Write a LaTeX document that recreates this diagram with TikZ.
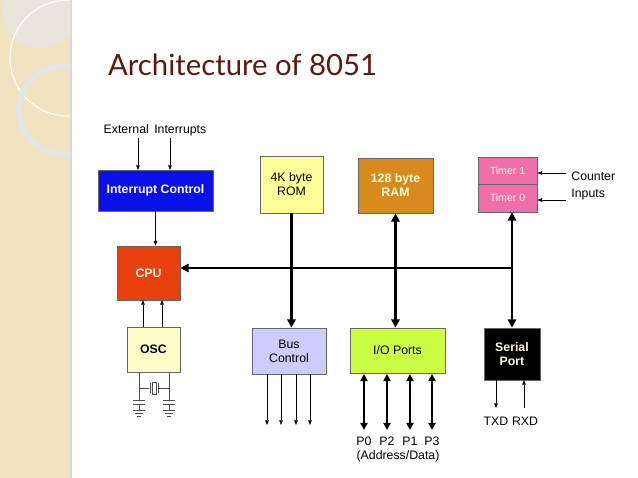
\documentclass[tikz,border=0pt]{standalone}
\usepackage{fontspec}
\setmainfont{Liberation Sans}
\newfontfamily\titlefont{Lato}
\usetikzlibrary{arrows.meta}
\definecolor{stripbg}{HTML}{F2E3C0}
\definecolor{titlered}{HTML}{5A1A10}
\definecolor{intblue}{HTML}{0A10E8}
\definecolor{cpured}{HTML}{E8400F}
\definecolor{oscyel}{HTML}{FFFFCC}
\definecolor{romyel}{HTML}{FFFF99}
\definecolor{buslav}{HTML}{CCCCFF}
\definecolor{ramorg}{HTML}{D98A1C}
\definecolor{tmrpink}{HTML}{F06EAA}
\definecolor{iogreen}{HTML}{CCFF44}
\newcommand\blkfont{\fontsize{10.5}{12}\selectfont}
\tikzset{
  blk/.style={draw=black!60, line width=.6pt, font=\blkfont, align=center, inner sep=0pt},
  bus/.style={line width=2pt, -{Triangle[length=7pt,width=7pt]}},
  dbus/.style={line width=2pt, {Triangle[length=7pt,width=7pt]}-{Triangle[length=7pt,width=7pt]}},
  sig/.style={line width=.6pt, -{Triangle[length=4pt,width=3pt]}},
  lbl/.style={font=\blkfont, inner sep=1pt}
}
\begin{document}
\begin{tikzpicture}[x=0.03cm, y=-0.03cm]
  \useasboundingbox (0,0) rectangle (638,478);
  % left strip
  \fill[stripbg] (0,0) rectangle (70,478);
  \fill[black!15] (70,0) rectangle (72,478);
  \begin{scope}
    \clip (0,0) rectangle (70,478);
    \fill[white!70!stripbg!85!gray] (40,10) circle (38);
    \draw[white, line width=1pt] (68,58) circle (58);
    \draw[black!10, line width=5pt] (63,110) circle (44);
  \end{scope}
  % title
  \node[anchor=west, text=titlered, font=\titlefont\fontsize{25}{30}\selectfont] (title) at (104,65) {Architecture of 8051};
  % blocks
  \node[blk, fill=intblue, text=white, font=\blkfont\bfseries, minimum width=115*0.03cm, minimum height=41*0.03cm] (intc) at (155.5,190.5) {Interrupt Control};
  \node[blk, fill=cpured, text=white!85!yellow, font=\blkfont\bfseries, minimum width=63*0.03cm, minimum height=54*0.03cm] (cpu) at (148.5,273) {CPU};
  \node[blk, fill=oscyel, font=\blkfont\bfseries, minimum width=53*0.03cm, minimum height=45*0.03cm] (osc) at (153.5,349.5) {OSC};
  \node[blk, fill=romyel, minimum width=63*0.03cm, minimum height=57*0.03cm] (rom) at (291.5,184.5) {4K byte\\ROM};
  \node[blk, fill=buslav, minimum width=74*0.03cm, minimum height=46*0.03cm] (busc) at (289,351) {Bus\\Control};
  \node[blk, fill=ramorg, text=white!85!yellow, font=\blkfont\bfseries, minimum width=75*0.03cm, minimum height=55*0.03cm] (ram) at (395.5,185.5) {128 byte\\RAM};
  \node[blk, fill=tmrpink, text=white!80!yellow, font=\small, minimum width=59*0.03cm, minimum height=27*0.03cm] (tmr1) at (507.5,170.5) {Timer 1};
  \node[blk, fill=tmrpink, text=white!80!yellow, font=\small, minimum width=59*0.03cm, minimum height=28*0.03cm] (tmr0) at (507.5,198) {Timer 0};
  \node[blk, fill=iogreen, minimum width=95*0.03cm, minimum height=45*0.03cm] (io) at (397.5,350.5) {I/O Ports};
  \node[blk, fill=black, text=white!85!yellow, font=\blkfont\bfseries, minimum width=56*0.03cm, minimum height=52*0.03cm] (ser) at (512,354) {Serial\\Port};
  % bus
  \coordinate (busend) at (512,268);
  \draw[bus] (busend) -- (cpu.east |- busend);
  \draw[bus] (rom.south) -- (rom.south |- busc.north);
  \draw[dbus] (ram.south) -- (ram.south |- io.north);
  \draw[dbus] (tmr0.south -| busend) -- (busend |- ser.north);
  % interrupts
  \node[lbl] (extint) at (155,130) {External\, Interrupts};
  \foreach \xx in {138,170} \draw[sig] (\xx,138) -- (\xx,170);
  \draw[sig] (intc.south) -- (intc.south |- cpu.north);
  \foreach \xx in {143,162} \draw[sig] (\xx,327) -- (\xx,300);
  % crystal
  \begin{scope}[line width=.6pt, black!70]
    \draw (139,372) -- (139,400) (169,372) -- (169,400);
    \draw (139,388) -- (149,388) (159,388) -- (169,388);
    \draw (150,383) -- (150,393) (158,383) -- (158,393);
    \draw (152,382) rectangle (156,394);
    \foreach \xx in {139,169} {
      \draw (\xx-6,400) -- (\xx+6,400) (\xx-6,404) -- (\xx+6,404);
      \draw (\xx,404) -- (\xx,410);
      \draw (\xx-6,410) -- (\xx+6,410) (\xx-4,413) -- (\xx+4,413) (\xx-2,416) -- (\xx+2,416);
    }
  \end{scope}
  % outputs
  \foreach \xx in {267,281,296,310} \draw[sig] (\xx,374) -- (\xx,425);
  \foreach \xx/\pp in {364/P0,387/P2,410/P1,432/P3} {
    \draw[line width=2pt, {Triangle[length=6pt,width=6pt]}-{Triangle[length=6pt,width=6pt]}] (\xx,374) -- (\xx,430);
    \node[lbl] at (\xx,441) {\pp};
  }
  \node[lbl] (addr) at (398,456) {(Address/Data)};
  \draw[sig] (496,380) -- (496,408);
  \draw[sig] (524,408) -- (524,380);
  \node[lbl] (txd) at (496,421) {TXD};
  \node[lbl] (rxd) at (525,421) {RXD};
  \draw[sig] (566,173) -- (tmr1.east |- 0,173);
  \draw[sig] (566,200) -- (tmr0.east |- 0,200);
  \node[lbl, anchor=west] (cnt) at (570,176) {Counter};
  \node[lbl, anchor=west] (inp) at (570,195) {Inputs};
\end{tikzpicture}
\end{document}
